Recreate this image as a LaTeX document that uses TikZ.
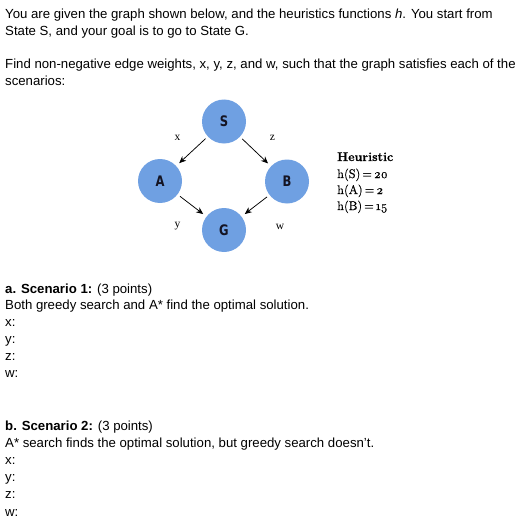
\documentclass[tikz,border=0pt]{standalone}
\usepackage{fontspec}
\setmainfont{Liberation Sans}
\newfontfamily\heurfont{Latin Modern Roman}[Numbers=OldStyle, FakeBold=0.6]
\newfontfamily\labfont{Liberation Serif}
\newfontfamily\nodefont{DejaVu Sans}[FakeStretch=0.8]
\usetikzlibrary{arrows.meta}
\definecolor{nodeblue}{RGB}{111,160,226}
\definecolor{nodetext}{RGB}{20,20,35}
\tikzset{
  txt/.style={anchor=base west, inner sep=0pt, font=\fontsize{13.2}{15}\selectfont},
  st/.style={circle, fill=nodeblue, minimum size=44pt, inner sep=0pt, text=nodetext, font=\nodefont\bfseries\fontsize{14.5}{14.5}\selectfont},
  edge/.style={-{Stealth[length=7pt,width=6pt]}, line width=0.75pt, black, shorten >=4pt, shorten <=3pt},
  elab/.style={inner sep=0pt, font=\labfont\fontsize{11.5}{11.5}\selectfont},
  heur/.style={anchor=base west, inner sep=0pt, font=\heurfont\fontsize{12.5}{12.5}\selectfont}
}
\begin{document}
\begin{tikzpicture}[x=1pt,y=-1pt]
\useasboundingbox (0,0) rectangle (528,532);
% intro
\node[txt] (l1) at (5,18.5) {You are given the graph shown below, and the heuristics functions \textit{h}. You start from};
\node[txt] (l2) at (5,35.5) {State S, and your goal is to go to State G.};
\node[txt] (l3) at (5,69) {Find non-negative edge weights, x, y, z, and w, such that the graph satisfies each of the};
\node[txt] (l4) at (5,86) {scenarios:};
% graph
\node[st] (S) at (224,121.5) {S};
\node[st] (A) at (160,181) {A};
\node[st] (B) at (287,181.5) {B};
\node[st] (G) at (224,230) {G};
\draw[edge] (S) -- (A);
\draw[edge] (S) -- (B);
\draw[edge] (A) -- (G);
\draw[edge] (B) -- (G);
\node[elab] (lx) at (177.5,137.5) {x};
\node[elab] (lz) at (272.5,137.5) {z};
\node[elab] (ly) at (177.5,226) {y};
\node[elab] (lw) at (280,226.5) {w};
% heuristic
\node[heur, font=\heurfont\bfseries\fontsize{12.5}{12.5}\selectfont] (h0) at (337,161) {Heuristic};
\node[heur] (h1) at (337,178) {h(S)\,=\,20};
\node[heur] (h2) at (337,194) {h(A)\,=\,2};
\node[heur] (h3) at (337,210) {h(B)\,=\,15};
% scenario a
\node[txt] (a0) at (5,293) {\textbf{a. Scenario 1:} (3 points)};
\node[txt] (a1) at (5,309.8) {Both greedy search and A* find the optimal solution.};
\node[txt] (ax) at (5,326.6) {x:};
\node[txt] (ay) at (5,343.4) {y:};
\node[txt] (az) at (5,360.2) {z:};
\node[txt] (aw) at (5,377) {w:};
% scenario b
\node[txt] (b0) at (5,430.5) {\textbf{b. Scenario 2:} (3 points)};
\node[txt] (b1) at (5,447.5) {A* search finds the optimal solution, but greedy search doesn't.};
\node[txt] (bx) at (5,464.5) {x:};
\node[txt] (by) at (5,481.5) {y:};
\node[txt] (bz) at (5,498.5) {z:};
\node[txt] (bw) at (5,516) {w:};
\end{tikzpicture}
\end{document}
